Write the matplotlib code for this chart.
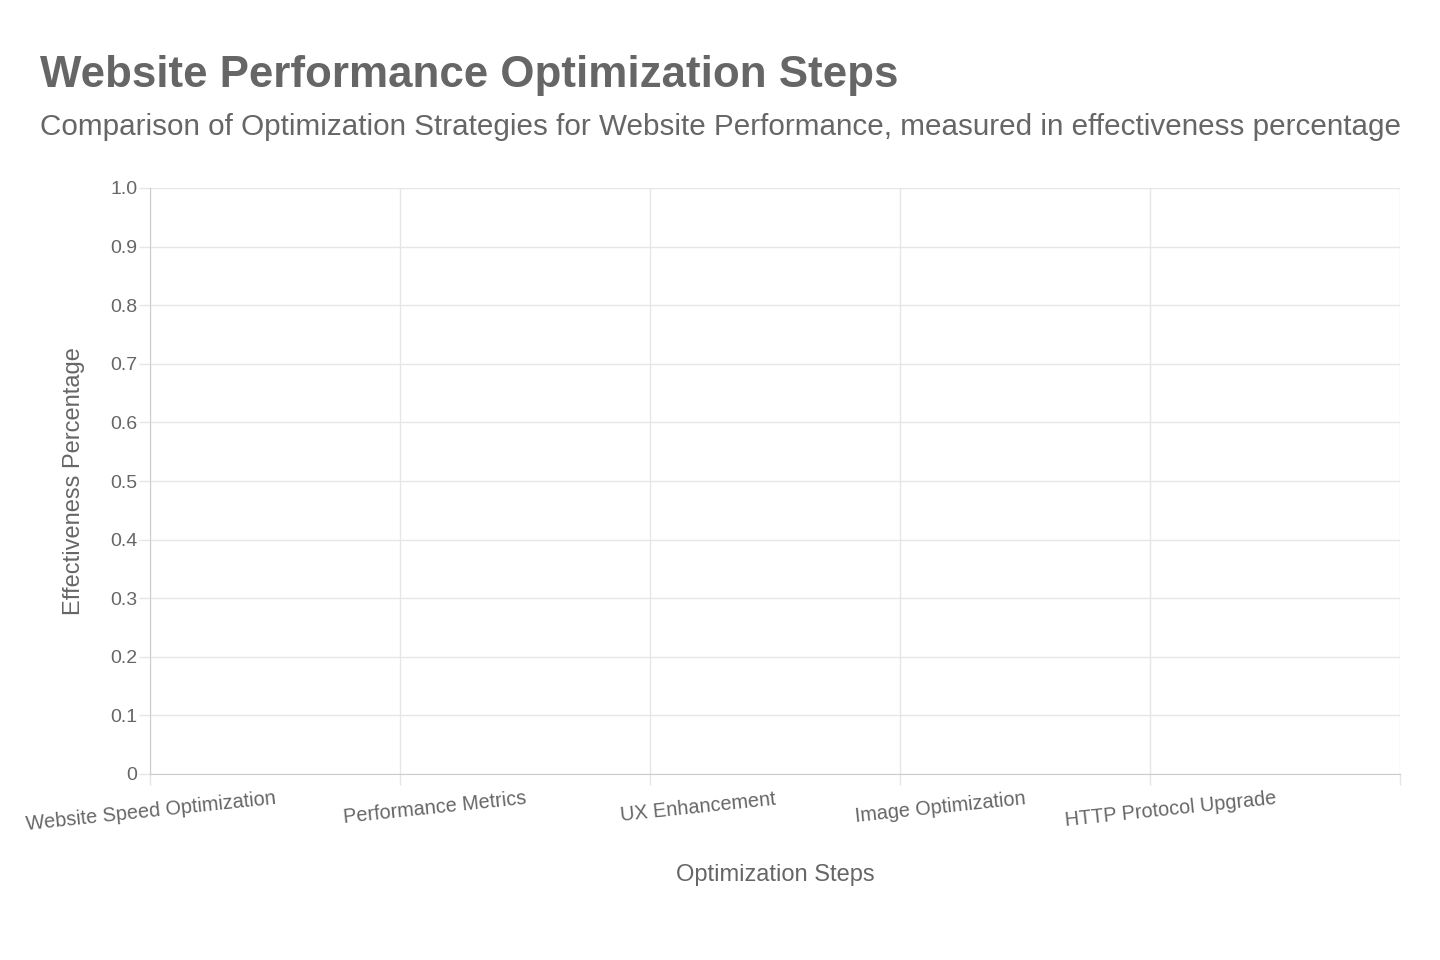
import matplotlib.pyplot as plt
import numpy as np

# data
steps = ['Website Speed Optimization', 'Performance Metrics', 'UX Enhancement',
         'Image Optimization', 'HTTP Protocol Upgrade']
effectiveness = [np.nan, np.nan, np.nan, np.nan, np.nan]  # no values shown in the chart
y_ticks = [0, 0.1, 0.2, 0.3, 0.4, 0.5, 0.6, 0.7, 0.8, 0.9, 1.0]
y_tick_labels = ['0', '0.1', '0.2', '0.3', '0.4', '0.5', '0.6', '0.7', '0.8', '0.9', '1.0']

plt.rcParams['font.family'] = ['Liberation Sans', 'DejaVu Sans']
text_color = '#666666'
grid_color = '#e6e6e6'

fig = plt.figure(figsize=(14.4, 9.6), dpi=100)
ax = fig.add_axes([150 / 1440, 1 - 774 / 960, 1250 / 1440, 586 / 960])

x = np.arange(len(steps)) + 0.5
ax.bar(x, effectiveness, width=0.8, color='#36a2eb')

ax.set_xlim(0, len(steps))
ax.set_ylim(0, 1.0)
# grid lines on category edges, labels on category centres
ax.set_xticks(np.arange(len(steps) + 1))
ax.set_xticklabels([])
ax.set_xticks(x, minor=True)
ax.set_xticklabels(steps, minor=True, rotation=6, ha='right', va='top',
                   rotation_mode='anchor', fontsize=14.3, color=text_color)
ax.set_yticks(y_ticks)
ax.set_yticklabels(y_tick_labels, fontsize=14, color=text_color)

ax.grid(True, which='major', color=grid_color, linewidth=1)
ax.set_axisbelow(True)
ax.tick_params(axis='both', which='major', length=8, color=grid_color, width=1)
ax.tick_params(axis='x', which='minor', length=0, pad=11)
ax.tick_params(axis='y', pad=1)
for side in ['top', 'right']:
    ax.spines[side].set_visible(False)
ax.spines['left'].set_color('#cccccc')
ax.spines['bottom'].set_color('#cccccc')

ax.set_xlabel('Optimization Steps', fontsize=17, color=text_color, labelpad=21)
ax.set_ylabel('Effectiveness Percentage', fontsize=17, color=text_color, labelpad=18)

fig.text(40 / 1440, 1 - 87 / 960, 'Website Performance Optimization Steps',
         fontsize=31.6, fontweight='bold', color=text_color, va='baseline', ha='left')
fig.text(40 / 1440, 1 - 135 / 960,
         'Comparison of Optimization Strategies for Website Performance, measured in effectiveness percentage',
         fontsize=21.3, color=text_color, va='baseline', ha='left')

fig.savefig('out.png', dpi=100, facecolor='white')
